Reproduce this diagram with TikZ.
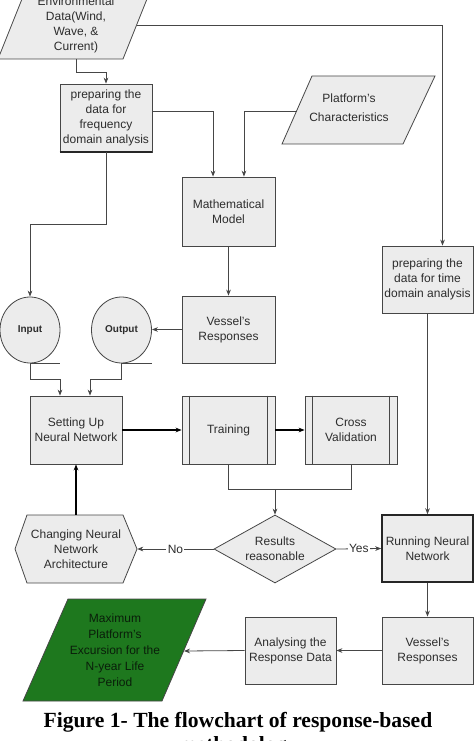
\documentclass[tikz,border=0pt]{standalone}
\usepackage{fontspec}
\setmainfont{Liberation Sans}
\newfontfamily\capfont{Liberation Serif}
\usetikzlibrary{shapes.geometric,arrows.meta}
\definecolor{boxfill}{RGB}{236,236,236}
\definecolor{lineclr}{RGB}{70,70,70}
\definecolor{txtclr}{RGB}{45,45,45}
\definecolor{greenfill}{RGB}{30,120,30}
\definecolor{greentxt}{RGB}{10,30,10}
\newcommand\dfont{\fontsize{9}{11.25}\selectfont}
\begin{document}
\begin{tikzpicture}[x=0.75pt,y=-0.75pt,
  shapeline/.style={draw=lineclr, line width=0.6pt},
  txt/.style={text=txtclr, font=\dfont, align=center, inner sep=1pt},
  box/.style={shapeline, fill=boxfill, txt, minimum width=69pt, minimum height=51pt},
  tape/.style={ellipse, shapeline, fill=boxfill, minimum width=45pt, minimum height=49.5pt, inner sep=0pt, text=txtclr, font=\bfseries\fontsize{7.5}{9}\selectfont},
  lin/.style={draw=lineclr, line width=0.6pt},
  arr/.style={lin, -{Stealth[length=4.5pt,width=3.5pt]}},
  arrk/.style={draw=black, line width=0.9pt, -{Stealth[length=4.5pt,width=3.5pt]}},
  lab/.style={fill=white, inner sep=1pt, text=txtclr, font=\dfont}
]
\useasboundingbox (0,0) rectangle (474,741);

% Environmental data
\draw[shapeline, fill=boxfill] (-2,59) -- (123,59) -- (149,-6) -- (24,-6) -- cycle;
\node[txt] (env) at (76,25) {Environmental\\Data(Wind,\\Wave, \&\\Current)};
\coordinate (envS) at (76,59);
\coordinate (envR) at (137,25);

% preparing frequency
\node[box, minimum width=69pt, minimum height=51pt] (prepF) at (106,118) {preparing the\\data for\\frequency\\domain analysis};
\draw[draw=black!85, line width=1.5pt] (prepF.south west) -- (prepF.south east);

% Platform's characteristics
\draw[shapeline, fill=boxfill] (282,144) -- (403,144) -- (435,76) -- (312,76) -- cycle;
\node[txt] (plat) at (349,108) {Platform's\\[3pt]Characteristics};
\coordinate (platW) at (296.5,111);

% Mathematical model and vessel responses
\node[box, minimum width=69.75pt, minimum height=51.75pt] (math) at (228.5,211.5) {Mathematical\\Model};
\node[box, minimum width=69.75pt, minimum height=50.25pt] (vesM) at (228.5,329.5) {Vessel's\\Responses};

% preparing time
\node[box, minimum width=68.25pt, minimum height=50.25pt] (prepT) at (427.5,279.5) {preparing the\\data for time\\domain analysis};

% input / output tapes
\node[tape] (inC) at (30,330) {Input};
\node[tape] (outC) at (121.5,330) {Output};
\draw[shapeline] (inC.south) -- ++(30,0);
\draw[shapeline] (outC.south) -- ++(30,0);

% neural network row
\node[box, minimum width=69pt, minimum height=51pt] (setup) at (76,430) {Setting Up\\Neural Network};
\node[box, minimum width=69.75pt, minimum height=51pt] (train) at (228.5,430) {Training};
\draw[shapeline] ([xshift=6pt]train.north west) -- ([xshift=6pt]train.south west);
\draw[shapeline] ([xshift=-6pt]train.north east) -- ([xshift=-6pt]train.south east);
\node[box, minimum width=69pt, minimum height=51pt] (cross) at (351,430) {Cross\\Validation};
\draw[shapeline] ([xshift=6pt]cross.north west) -- ([xshift=6pt]cross.south west);
\draw[shapeline] ([xshift=-6pt]cross.north east) -- ([xshift=-6pt]cross.south east);

% decision row
\node[diamond, shapeline, fill=boxfill, txt, minimum width=91.5pt, minimum height=51pt, inner sep=0pt, aspect=1.8] (dia) at (275,549) {Results\\reasonable};
\draw[shapeline, fill=boxfill] (15,549) -- (27,515) -- (123,515) -- (137,549) -- (123,583) -- (27,583) -- cycle;
\node[txt, minimum width=91.5pt, minimum height=51pt] (hex) at (76,549) {Changing Neural\\Network\\Architecture};
\node[box, line width=1.2pt, draw=black!85, minimum width=68.25pt, minimum height=50.25pt] (run) at (427.5,548.5) {Running Neural\\Network};

% bottom row
\node[box, minimum width=68.25pt, minimum height=50.25pt] (vesB) at (427.5,650.5) {Vessel's\\Responses};
\node[box, minimum width=68.25pt, minimum height=50.25pt] (anal) at (290.5,650.5) {Analysing the\\Response Data};
\draw[draw=lineclr, line width=0.6pt, fill=greenfill] (23,701) -- (162,701) -- (206,599) -- (68,599) -- cycle;
\node[align=center, inner sep=1pt, font=\fontsize{9}{12}\selectfont] (maxe) at (115,650) {\color{greentxt}Maximum\\\color{greentxt}Platform's\\\color{greentxt}Excursion for the\\\color{greentxt}N-year Life\\\color{greentxt}Period};
\coordinate (greenE) at (184,651);

% caption
\node[anchor=base, inner sep=0pt, font=\capfont\bfseries\fontsize{16.2}{18}\selectfont] (cap1) at (238,727) {Figure 1- The flowchart of response-based};
\node[anchor=base, inner sep=0pt, font=\capfont\bfseries\fontsize{16.2}{18}\selectfont] (cap2) at (238,751) {methodology};

% connectors
\draw[arr] (envS) -- ++(0,13) -| (prepF.north);
\draw[arr] (envR) -| ([xshift=11.25pt]prepT.north);
\draw[arr] ([yshift=5.25pt]prepF.east) -| ([xshift=-11.6pt]math.north);
\draw[arr] (platW) -| ([xshift=11.6pt]math.north);
\draw[arr] (math.south) -- (vesM.north);
\draw[arr] (vesM.west) -- (vesM.west -| outC.east);
\draw[arr] (prepF.south) -- ++(0,72) -| (inC.north);
\draw[arr] (inC.south) -- ++(0,16) -| ([xshift=-12pt]setup.north);
\draw[arr] (outC.south) -- ++(0,16) -| ([xshift=10.5pt]setup.north);
\draw[arrk] (setup.east) -- (train.west);
\draw[arrk] (train.east) -- (cross.west);
\draw[lin] (train.south) -- ++(0,25) -| (cross.south);
\coordinate (mj) at (275,489);
\draw[arr] (mj) -- (dia.north);
\draw[arr] (dia.west) -- node[lab]{No} (hex.east);
\draw[arr] (dia.east) -- node[lab]{Yes} (run.west);
\draw[arrk] (hex.north) -- (setup.south);
\draw[arr] (prepT.south) -- (run.north);
\draw[arr] (run.south) -- (vesB.north);
\draw[arr] (vesB.west) -- (anal.east);
\draw[arr] (anal.west) -- (greenE);
\end{tikzpicture}
\end{document}
